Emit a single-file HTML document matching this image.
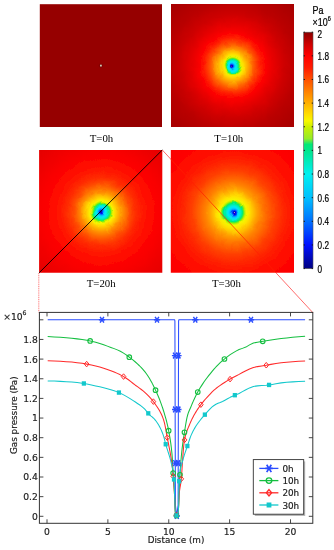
<!DOCTYPE html>
<html><head><meta charset="utf-8"><style>
html,body{margin:0;padding:0;background:#fff;}
body{width:334px;height:550px;overflow:hidden;position:relative;}
svg{position:absolute;left:0;top:0;}
.pl{font-family:"Liberation Serif",serif;font-size:10.8px;fill:#000;}
.tk{stroke:#222;stroke-width:0.18px;font-family:"DejaVu Sans",sans-serif;font-size:9.2px;fill:#222;}
.ax{stroke:#222;stroke-width:0.18px;font-family:"DejaVu Sans",sans-serif;font-size:8.8px;fill:#222;}
.yl{stroke:#222;stroke-width:0.18px;font-family:"DejaVu Sans",sans-serif;font-size:8.8px;fill:#222;}
.lg{stroke:#1a1a1a;stroke-width:0.18px;font-family:"DejaVu Sans",sans-serif;font-size:8.8px;fill:#1a1a1a;}
.cb{font-family:"Liberation Sans",sans-serif;font-size:10.5px;fill:#000;stroke:#000;stroke-width:0.22px;}
</style></head><body>
<svg width="334" height="550" viewBox="0 0 334 550">
<defs><filter id="wob" x="-5%" y="-5%" width="110%" height="110%"><feTurbulence type="fractalNoise" baseFrequency="0.1" numOctaves="2" seed="5" result="n"/><feDisplacementMap in="SourceGraphic" in2="n" scale="3.6" xChannelSelector="R" yChannelSelector="G"/></filter></defs>
<rect width="334" height="550" fill="#fff"/>
<rect x="39.8" y="4.2" width="122.2" height="122.8" fill="#960000"/>
<circle cx="100.9" cy="65.6" r="2.2" fill="#7a0000" opacity="0.6"/>
<rect x="100.0" y="64.7" width="1.8" height="1.8" fill="#c8c8b4"/>
<radialGradient id="g1" gradientUnits="userSpaceOnUse" cx="232.65" cy="66.10" r="88"><stop offset="0.0000" stop-color="#cda5cd"/><stop offset="0.0057" stop-color="#2814a0"/><stop offset="0.0114" stop-color="#0000c8"/><stop offset="0.0182" stop-color="#003cff"/><stop offset="0.0261" stop-color="#008cff"/><stop offset="0.0364" stop-color="#00cdff"/><stop offset="0.0477" stop-color="#00e8fa"/><stop offset="0.0614" stop-color="#00eed2"/><stop offset="0.0739" stop-color="#00ec96"/><stop offset="0.0852" stop-color="#3cf032"/><stop offset="0.0955" stop-color="#b4f000"/><stop offset="0.1068" stop-color="#f0f000"/><stop offset="0.1250" stop-color="#ffdc00"/><stop offset="0.1477" stop-color="#ffc300"/><stop offset="0.1761" stop-color="#ffa500"/><stop offset="0.2102" stop-color="#ff8200"/><stop offset="0.2443" stop-color="#ff5f00"/><stop offset="0.2841" stop-color="#ff3c00"/><stop offset="0.3295" stop-color="#ff1900"/><stop offset="0.3750" stop-color="#fc0000"/><stop offset="0.4773" stop-color="#e40000"/><stop offset="0.5909" stop-color="#cd0000"/><stop offset="0.7273" stop-color="#ba0000"/><stop offset="0.9091" stop-color="#ac0000"/><stop offset="1.0000" stop-color="#a50000"/></radialGradient>
<clipPath id="cp1"><rect x="171.0" y="4.0" width="122.9" height="123.0"/></clipPath>
<g clip-path="url(#cp1)"><rect x="165.0" y="-2.0" width="134.9" height="135.0" fill="url(#g1)" filter="url(#wob)"/></g>
<radialGradient id="g2" gradientUnits="userSpaceOnUse" cx="101.50" cy="212.00" r="88"><stop offset="0.0000" stop-color="#cda5cd"/><stop offset="0.0068" stop-color="#2814aa"/><stop offset="0.0136" stop-color="#0000dc"/><stop offset="0.0227" stop-color="#003cff"/><stop offset="0.0318" stop-color="#008cff"/><stop offset="0.0432" stop-color="#00c8ff"/><stop offset="0.0568" stop-color="#00e6fa"/><stop offset="0.0727" stop-color="#00eed2"/><stop offset="0.0886" stop-color="#00ec96"/><stop offset="0.1023" stop-color="#3cf032"/><stop offset="0.1159" stop-color="#b4f000"/><stop offset="0.1307" stop-color="#f5f500"/><stop offset="0.1534" stop-color="#ffdc00"/><stop offset="0.1875" stop-color="#ffb900"/><stop offset="0.2273" stop-color="#ff9100"/><stop offset="0.2727" stop-color="#ff6e00"/><stop offset="0.3239" stop-color="#ff4b00"/><stop offset="0.3864" stop-color="#ff2d00"/><stop offset="0.4659" stop-color="#ff1800"/><stop offset="0.5568" stop-color="#ff0a00"/><stop offset="0.6818" stop-color="#fa0000"/><stop offset="0.8182" stop-color="#f00000"/><stop offset="1.0000" stop-color="#e40000"/></radialGradient>
<clipPath id="cp2"><rect x="39.1" y="150.0" width="123.2" height="122.8"/></clipPath>
<g clip-path="url(#cp2)"><rect x="33.1" y="144.0" width="135.2" height="134.8" fill="url(#g2)" filter="url(#wob)"/></g>
<radialGradient id="g3" gradientUnits="userSpaceOnUse" cx="233.40" cy="212.50" r="88"><stop offset="0.0000" stop-color="#cda5cd"/><stop offset="0.0068" stop-color="#2814aa"/><stop offset="0.0136" stop-color="#0000dc"/><stop offset="0.0216" stop-color="#0032ff"/><stop offset="0.0295" stop-color="#0078ff"/><stop offset="0.0386" stop-color="#00b4ff"/><stop offset="0.0500" stop-color="#00d7ff"/><stop offset="0.0636" stop-color="#00e8f5"/><stop offset="0.0773" stop-color="#00eed2"/><stop offset="0.0909" stop-color="#00ecaa"/><stop offset="0.1045" stop-color="#00eb78"/><stop offset="0.1182" stop-color="#64f01e"/><stop offset="0.1318" stop-color="#c8f000"/><stop offset="0.1477" stop-color="#f5f500"/><stop offset="0.1818" stop-color="#ffe100"/><stop offset="0.2216" stop-color="#ffc300"/><stop offset="0.2670" stop-color="#ffa000"/><stop offset="0.3182" stop-color="#ff8200"/><stop offset="0.3864" stop-color="#ff6400"/><stop offset="0.4773" stop-color="#ff3e00"/><stop offset="0.5909" stop-color="#ff2200"/><stop offset="0.7273" stop-color="#ff0c00"/><stop offset="0.8636" stop-color="#fe0400"/><stop offset="1.0000" stop-color="#fa0000"/></radialGradient>
<clipPath id="cp3"><rect x="170.8" y="150.0" width="123.2" height="122.8"/></clipPath>
<g clip-path="url(#cp3)"><rect x="164.8" y="144.0" width="135.2" height="134.8" fill="url(#g3)" filter="url(#wob)"/></g>
<text x="101.5" y="141.5" class="pl" text-anchor="middle">T=0h</text>
<text x="228.8" y="142.0" class="pl" text-anchor="middle">T=10h</text>
<text x="101.2" y="286.5" class="pl" text-anchor="middle">T=20h</text>
<text x="226.4" y="286.5" class="pl" text-anchor="middle">T=30h</text>
<linearGradient id="cb" x1="0" y1="0" x2="0" y2="1"><stop offset="0.0000" stop-color="#8a0000"/><stop offset="0.0500" stop-color="#cd0000"/><stop offset="0.1000" stop-color="#ff0000"/><stop offset="0.1500" stop-color="#ff1a00"/><stop offset="0.2000" stop-color="#ff5000"/><stop offset="0.3000" stop-color="#ffb000"/><stop offset="0.3500" stop-color="#ffe000"/><stop offset="0.3750" stop-color="#f8f800"/><stop offset="0.4000" stop-color="#cdf000"/><stop offset="0.4500" stop-color="#96ec28"/><stop offset="0.4750" stop-color="#00e878"/><stop offset="0.5000" stop-color="#00e68c"/><stop offset="0.6000" stop-color="#00f0f0"/><stop offset="0.7000" stop-color="#00c0ff"/><stop offset="0.8000" stop-color="#0070ff"/><stop offset="0.9000" stop-color="#0010ff"/><stop offset="1.0000" stop-color="#000080"/></linearGradient>
<rect x="303.7" y="32.2" width="9.3" height="236.4" fill="url(#cb)" stroke="#555" stroke-width="0.6"/>
<path d="M303.7,268.60h1.3M313.0,268.60h-1.3M303.7,244.96h1.3M313.0,244.96h-1.3M303.7,221.32h1.3M313.0,221.32h-1.3M303.7,197.68h1.3M313.0,197.68h-1.3M303.7,174.04h1.3M313.0,174.04h-1.3M303.7,150.40h1.3M313.0,150.40h-1.3M303.7,126.76h1.3M313.0,126.76h-1.3M303.7,103.12h1.3M313.0,103.12h-1.3M303.7,79.48h1.3M313.0,79.48h-1.3M303.7,55.84h1.3M313.0,55.84h-1.3M303.7,32.20h1.3M313.0,32.20h-1.3" stroke="#111" stroke-width="0.9"/>
<text transform="translate(317.6,272.50) scale(0.78,1.12)" class="cb">0</text>
<text transform="translate(317.6,248.86) scale(0.78,1.12)" class="cb">0.2</text>
<text transform="translate(317.6,225.22) scale(0.78,1.12)" class="cb">0.4</text>
<text transform="translate(317.6,201.58) scale(0.78,1.12)" class="cb">0.6</text>
<text transform="translate(317.6,177.94) scale(0.78,1.12)" class="cb">0.8</text>
<text transform="translate(317.6,154.30) scale(0.78,1.12)" class="cb">1</text>
<text transform="translate(317.6,130.66) scale(0.78,1.12)" class="cb">1.2</text>
<text transform="translate(317.6,107.02) scale(0.78,1.12)" class="cb">1.4</text>
<text transform="translate(317.6,83.38) scale(0.78,1.12)" class="cb">1.6</text>
<text transform="translate(317.6,59.74) scale(0.78,1.12)" class="cb">1.8</text>
<text transform="translate(317.6,37.90) scale(0.78,1.12)" class="cb">2</text>
<text transform="translate(312.6,13.7) scale(0.85,1.08)" class="cb" font-size="9.5">Pa</text>
<text transform="translate(312.6,25.5) scale(0.85,1.08)" class="cb" font-size="9.5">×10<tspan dy="-4" font-size="6.5">6</tspan></text>
<path d="M39.1,272.8L162.3,150.0" stroke="#000" stroke-width="0.9"/>
<path d="M38.8,273L38.8,312.4" stroke="#ff6a6a" stroke-width="0.9" stroke-dasharray="1.1,0.75"/>
<path d="M162.3,150.0L170.80,159.18M275.96,272.80L312.8,312.6" stroke="#ff3a3a" stroke-width="0.75"/>
<path d="M170.80,159.18L275.96,272.80" stroke="#ff2000" stroke-width="0.7"/>
<path d="M47.70,319.80 L174.70,319.80 L174.90,321.00 L175.40,505.00 L176.80,516.30 L178.10,505.00 L178.60,321.00 L178.80,319.80 L305.10,319.80" stroke="#2a4cff" stroke-width="1.05" fill="none" stroke-linejoin="round"/>
<path d="M47.70,336.60 L54.20,336.92 L60.37,337.32 L66.24,337.79 L71.80,338.30 L77.09,338.88 L82.11,339.55 L86.88,340.32 L91.41,341.18 L95.71,342.23 L99.79,343.45 L103.67,344.78 L107.35,346.12 L110.85,347.41 L114.17,348.62 L117.32,349.87 L120.32,351.26 L123.16,352.86 L125.86,354.63 L128.43,356.47 L130.86,358.33 L133.18,360.16 L135.37,362.00 L137.46,363.86 L139.44,365.75 L141.32,367.67 L143.11,369.65 L144.80,371.69 L146.41,373.80 L147.94,376.01 L149.40,378.32 L150.78,380.70 L152.09,383.12 L153.33,385.56 L154.51,387.98 L155.64,390.36 L156.70,392.68 L157.71,394.98 L158.67,397.27 L159.59,399.55 L160.45,401.82 L161.28,404.07 L162.06,406.31 L162.80,408.53 L163.51,410.73 L164.18,412.91 L164.81,415.03 L165.41,417.12 L165.99,419.18 L166.53,421.24 L167.05,423.29 L167.54,425.36 L168.01,427.46 L168.45,429.61 L168.87,431.80 L169.27,433.96 L169.65,436.09 L170.01,438.22 L170.35,440.37 L170.68,442.57 L170.98,444.85 L171.28,447.22 L171.55,449.70 L171.82,452.33 L172.07,455.12 L172.31,458.41 L172.53,462.07 L172.75,465.86 L172.95,469.53 L173.15,472.85 L173.33,475.71 L173.51,478.32 L173.67,480.75 L173.83,483.06 L173.98,485.29 L174.12,487.50 L174.26,489.73 L174.38,492.02 L174.51,494.41 L174.62,497.06 L174.73,499.91 L174.83,502.64 L174.93,505.00 L175.03,506.78 L175.12,508.35 L175.20,509.81 L175.28,511.10 L175.36,512.14 L175.43,512.89 L175.50,513.30 L176.80,516.30 L178.10,513.30 L178.17,512.89 L178.24,512.14 L178.32,511.10 L178.40,509.82 L178.48,508.36 L178.57,506.79 L178.67,505.04 L178.76,502.79 L178.87,500.15 L178.98,497.31 L179.09,494.46 L179.21,491.58 L179.34,488.50 L179.48,485.30 L179.62,482.05 L179.77,478.83 L179.93,475.75 L180.09,472.85 L180.26,470.03 L180.45,467.27 L180.64,464.56 L180.84,461.89 L181.06,459.28 L181.28,456.72 L181.52,454.19 L181.77,451.72 L182.04,449.33 L182.31,447.01 L182.60,444.73 L182.91,442.47 L183.24,440.22 L183.58,437.94 L183.94,435.62 L184.31,433.22 L184.71,430.68 L185.13,428.02 L185.57,425.29 L186.03,422.57 L186.52,419.94 L187.04,417.48 L187.58,415.27 L188.15,413.39 L188.75,411.77 L189.39,410.28 L190.05,408.80 L190.75,407.17 L191.49,405.40 L192.27,403.55 L193.09,401.64 L193.95,399.68 L194.86,397.71 L195.82,395.73 L196.82,393.75 L197.88,391.79 L199.00,389.82 L200.18,387.84 L201.41,385.85 L202.72,383.85 L204.09,381.83 L205.53,379.80 L207.06,377.75 L208.66,375.68 L210.34,373.58 L212.12,371.41 L213.99,369.20 L215.96,366.98 L218.03,364.78 L220.22,362.63 L222.52,360.56 L224.94,358.59 L227.49,356.62 L230.17,354.68 L233.00,352.83 L235.97,351.11 L239.10,349.58 L242.40,348.38 L245.88,347.10 L249.53,344.89 L253.39,343.03 L257.44,342.20 L261.71,341.53 L266.21,340.77 L270.94,340.01 L275.93,339.27 L281.17,338.58 L286.70,337.93 L292.52,337.32 L298.65,336.74 L305.10,336.20" stroke="#14bf40" stroke-width="1.05" fill="none" stroke-linejoin="round"/>
<path d="M47.70,360.70 L54.20,360.92 L60.37,361.25 L66.24,361.65 L71.80,362.10 L77.09,362.65 L82.11,363.34 L86.88,364.12 L91.41,364.99 L95.71,365.98 L99.79,367.07 L103.67,368.24 L107.35,369.46 L110.85,370.71 L114.17,372.01 L117.32,373.39 L120.32,374.84 L123.16,376.36 L125.86,377.95 L128.43,379.73 L130.86,381.63 L133.18,383.51 L135.37,385.20 L137.46,386.69 L139.44,388.08 L141.32,389.48 L143.11,390.94 L144.80,392.42 L146.41,393.91 L147.94,395.42 L149.40,396.93 L150.78,398.45 L152.09,399.98 L153.33,401.53 L154.51,403.12 L155.64,404.69 L156.70,406.23 L157.71,407.74 L158.67,409.26 L159.59,410.80 L160.45,412.40 L161.28,414.06 L162.06,415.81 L162.80,417.68 L163.51,419.67 L164.18,421.85 L164.81,424.48 L165.41,427.44 L165.99,430.55 L166.53,433.65 L167.05,436.55 L167.54,439.11 L168.01,441.45 L168.45,443.67 L168.87,445.79 L169.27,447.83 L169.65,449.80 L170.01,451.72 L170.35,453.61 L170.68,455.49 L170.98,457.37 L171.28,459.26 L171.55,461.19 L171.82,463.15 L172.07,465.18 L172.31,467.27 L172.53,469.45 L172.75,471.67 L172.95,473.90 L173.15,476.09 L173.33,478.20 L173.51,480.23 L173.67,482.20 L173.83,484.14 L173.98,486.08 L174.12,488.06 L174.26,490.09 L174.38,492.19 L174.51,494.40 L174.62,496.95 L174.73,499.79 L174.83,502.57 L174.93,504.98 L175.03,506.78 L175.12,508.35 L175.20,509.81 L175.28,511.10 L175.36,512.14 L175.43,512.89 L175.50,513.30 L176.80,516.30 L178.10,513.30 L178.17,512.88 L178.24,512.10 L178.32,511.03 L178.40,509.73 L178.48,508.28 L178.57,506.76 L178.67,505.13 L178.76,503.04 L178.87,500.67 L178.98,498.23 L179.09,495.96 L179.21,494.11 L179.34,492.62 L179.48,491.31 L179.62,490.14 L179.77,489.09 L179.93,488.11 L180.09,487.16 L180.26,486.19 L180.45,485.16 L180.64,484.01 L180.84,482.68 L181.06,481.12 L181.28,479.25 L181.52,476.82 L181.77,473.00 L182.04,468.45 L182.31,464.12 L182.60,460.00 L182.91,455.67 L183.24,451.37 L183.58,447.33 L183.94,443.80 L184.31,441.02 L184.71,438.82 L185.13,436.85 L185.57,435.08 L186.03,433.47 L186.52,431.98 L187.04,430.57 L187.58,429.21 L188.15,427.85 L188.75,426.45 L189.39,424.96 L190.05,423.36 L190.75,421.75 L191.49,420.14 L192.27,418.54 L193.09,416.94 L193.95,415.34 L194.86,413.73 L195.82,412.12 L196.82,410.51 L197.88,408.88 L199.00,407.25 L200.18,405.61 L201.41,403.95 L202.72,402.31 L204.09,400.65 L205.53,398.99 L207.06,397.30 L208.66,395.57 L210.34,393.78 L212.12,391.94 L213.99,390.20 L215.96,388.53 L218.03,386.91 L220.22,385.33 L222.52,383.76 L224.94,382.19 L227.49,380.63 L230.17,379.05 L233.00,377.53 L235.97,376.00 L239.10,374.38 L242.40,372.52 L245.88,370.67 L249.53,368.97 L253.39,367.53 L257.44,366.61 L261.71,365.94 L266.21,365.23 L270.94,364.37 L275.93,363.51 L281.17,362.77 L286.70,362.19 L292.52,361.67 L298.65,361.24 L305.10,360.90" stroke="#ff2a2a" stroke-width="1.05" fill="none" stroke-linejoin="round"/>
<path d="M47.70,380.90 L54.20,381.08 L60.37,381.36 L66.24,381.71 L71.80,382.10 L77.09,382.59 L82.11,383.21 L86.88,383.95 L91.41,384.89 L95.71,385.90 L99.79,386.85 L103.67,387.75 L107.35,388.67 L110.85,389.65 L114.17,390.71 L117.32,391.88 L120.32,393.17 L123.16,394.61 L125.86,396.12 L128.43,397.61 L130.86,399.10 L133.18,400.58 L135.37,402.05 L137.46,403.45 L139.44,404.80 L141.32,406.16 L143.11,407.60 L144.80,409.21 L146.41,411.08 L147.94,412.98 L149.40,414.60 L150.78,415.85 L152.09,416.94 L153.33,418.00 L154.51,419.19 L155.64,420.55 L156.70,421.98 L157.71,423.47 L158.67,425.04 L159.59,426.67 L160.45,428.37 L161.28,430.14 L162.06,431.99 L162.80,433.91 L163.51,435.90 L164.18,438.04 L164.81,440.66 L165.41,443.24 L165.99,445.26 L166.53,447.04 L167.05,448.67 L167.54,450.19 L168.01,451.62 L168.45,452.98 L168.87,454.28 L169.27,455.55 L169.65,456.81 L170.01,458.08 L170.35,459.37 L170.68,460.69 L170.98,462.00 L171.28,463.20 L171.55,464.31 L171.82,465.38 L172.07,466.41 L172.31,467.43 L172.53,468.46 L172.75,469.53 L172.95,470.66 L173.15,471.85 L173.33,473.13 L173.51,474.52 L173.67,476.02 L173.83,477.65 L173.98,479.42 L174.12,481.66 L174.26,484.68 L174.38,488.12 L174.51,491.62 L174.62,494.88 L174.73,498.33 L174.83,501.81 L174.93,504.78 L175.03,506.82 L175.12,508.46 L175.20,509.93 L175.28,511.19 L175.36,512.19 L175.43,512.90 L175.50,513.30 L176.80,516.30 L178.10,513.30 L178.17,512.93 L178.24,512.26 L178.32,511.32 L178.40,510.10 L178.48,508.61 L178.57,506.88 L178.67,504.45 L178.76,500.39 L178.87,495.66 L178.98,490.55 L179.09,484.67 L179.21,480.95 L179.34,478.96 L179.48,477.13 L179.62,475.46 L179.77,473.95 L179.93,472.57 L180.09,471.33 L180.26,470.20 L180.45,469.17 L180.64,468.22 L180.84,467.34 L181.06,466.51 L181.28,465.69 L181.52,464.88 L181.77,464.05 L182.04,463.16 L182.31,462.21 L182.60,461.14 L182.91,459.95 L183.24,458.71 L183.58,457.48 L183.94,456.27 L184.31,455.06 L184.71,453.83 L185.13,452.58 L185.57,451.30 L186.03,449.96 L186.52,448.56 L187.04,447.08 L187.58,445.47 L188.15,443.72 L188.75,441.87 L189.39,439.96 L190.05,438.04 L190.75,436.15 L191.49,434.36 L192.27,432.68 L193.09,431.05 L193.95,429.45 L194.86,427.88 L195.82,426.34 L196.82,424.81 L197.88,423.29 L199.00,421.77 L200.18,420.24 L201.41,418.70 L202.72,417.14 L204.09,415.55 L205.53,413.86 L207.06,412.09 L208.66,410.31 L210.34,408.57 L212.12,406.94 L213.99,405.47 L215.96,404.22 L218.03,403.28 L220.22,402.46 L222.52,401.46 L224.94,400.20 L227.49,398.80 L230.17,397.34 L233.00,395.96 L235.97,394.72 L239.10,393.42 L242.40,391.66 L245.88,389.76 L249.53,387.89 L253.39,386.44 L257.44,385.87 L261.71,385.58 L266.21,385.28 L270.94,384.69 L275.93,383.72 L281.17,382.87 L286.70,382.33 L292.52,381.87 L298.65,381.51 L305.10,381.30" stroke="#12c8cc" stroke-width="1.05" fill="none" stroke-linejoin="round"/>
<path d="M98.90,319.80H105.10M100.10,316.90L103.90,322.70M100.10,322.70L103.90,316.90" stroke="#2a4cff" stroke-width="1.45" fill="none"/>
<path d="M153.90,319.80H160.10M155.10,316.90L158.90,322.70M155.10,322.70L158.90,316.90" stroke="#2a4cff" stroke-width="1.45" fill="none"/>
<path d="M171.90,355.60H178.10M173.10,352.70L176.90,358.50M173.10,358.50L176.90,352.70" stroke="#2a4cff" stroke-width="1.45" fill="none"/>
<path d="M172.00,409.40H178.20M173.20,406.50L177.00,412.30M173.20,412.30L177.00,406.50" stroke="#2a4cff" stroke-width="1.45" fill="none"/>
<path d="M172.20,463.10H178.40M173.40,460.20L177.20,466.00M173.40,466.00L177.20,460.20" stroke="#2a4cff" stroke-width="1.45" fill="none"/>
<path d="M173.70,516.00H179.90M174.90,513.10L178.70,518.90M174.90,518.90L178.70,513.10" stroke="#2a4cff" stroke-width="1.45" fill="none"/>
<path d="M175.10,463.10H181.30M176.30,460.20L180.10,466.00M176.30,466.00L180.10,460.20" stroke="#2a4cff" stroke-width="1.45" fill="none"/>
<path d="M175.30,409.40H181.50M176.50,406.50L180.30,412.30M176.50,412.30L180.30,406.50" stroke="#2a4cff" stroke-width="1.45" fill="none"/>
<path d="M175.40,355.60H181.60M176.60,352.70L180.40,358.50M176.60,358.50L180.40,352.70" stroke="#2a4cff" stroke-width="1.45" fill="none"/>
<path d="M192.20,319.80H198.40M193.40,316.90L197.20,322.70M193.40,322.70L197.20,316.90" stroke="#2a4cff" stroke-width="1.45" fill="none"/>
<path d="M247.90,319.80H254.10M249.10,316.90L252.90,322.70M249.10,322.70L252.90,316.90" stroke="#2a4cff" stroke-width="1.45" fill="none"/>
<circle cx="90.15" cy="340.94" r="2.3" stroke="#14bf40" stroke-width="1.1" fill="none"/>
<circle cx="129.31" cy="357.15" r="2.3" stroke="#14bf40" stroke-width="1.1" fill="none"/>
<circle cx="155.54" cy="390.15" r="2.3" stroke="#14bf40" stroke-width="1.1" fill="none"/>
<circle cx="168.66" cy="430.69" r="2.3" stroke="#14bf40" stroke-width="1.1" fill="none"/>
<circle cx="173.16" cy="473.11" r="2.3" stroke="#14bf40" stroke-width="1.1" fill="none"/>
<circle cx="176.47" cy="515.54" r="2.3" stroke="#14bf40" stroke-width="1.1" fill="none"/>
<circle cx="179.98" cy="474.74" r="2.3" stroke="#14bf40" stroke-width="1.1" fill="none"/>
<circle cx="184.46" cy="432.29" r="2.3" stroke="#14bf40" stroke-width="1.1" fill="none"/>
<circle cx="197.76" cy="392.03" r="2.3" stroke="#14bf40" stroke-width="1.1" fill="none"/>
<circle cx="224.45" cy="358.99" r="2.3" stroke="#14bf40" stroke-width="1.1" fill="none"/>
<circle cx="262.72" cy="341.36" r="2.3" stroke="#14bf40" stroke-width="1.1" fill="none"/>
<path d="M86.65,361.28L88.95,364.08L86.65,366.88L84.35,364.08Z" stroke="#ff2a2a" stroke-width="1.0" fill="none"/>
<path d="M123.55,373.79L125.85,376.59L123.55,379.39L121.25,376.59Z" stroke="#ff2a2a" stroke-width="1.0" fill="none"/>
<path d="M153.39,398.81L155.69,401.61L153.39,404.41L151.09,401.61Z" stroke="#ff2a2a" stroke-width="1.0" fill="none"/>
<path d="M167.25,434.80L169.55,437.60L167.25,440.40L164.95,437.60Z" stroke="#ff2a2a" stroke-width="1.0" fill="none"/>
<path d="M173.16,473.46L175.46,476.26L173.16,479.06L170.86,476.26Z" stroke="#ff2a2a" stroke-width="1.0" fill="none"/>
<path d="M176.30,512.34L178.60,515.14L176.30,517.94L174.00,515.14Z" stroke="#ff2a2a" stroke-width="1.0" fill="none"/>
<path d="M181.32,476.09L183.62,478.89L181.32,481.69L179.02,478.89Z" stroke="#ff2a2a" stroke-width="1.0" fill="none"/>
<path d="M184.52,437.10L186.82,439.90L184.52,442.70L182.22,439.90Z" stroke="#ff2a2a" stroke-width="1.0" fill="none"/>
<path d="M200.87,401.88L203.17,404.68L200.87,407.48L198.57,404.68Z" stroke="#ff2a2a" stroke-width="1.0" fill="none"/>
<path d="M230.08,376.31L232.38,379.11L230.08,381.91L227.78,379.11Z" stroke="#ff2a2a" stroke-width="1.0" fill="none"/>
<path d="M266.25,362.42L268.55,365.22L266.25,368.02L263.95,365.22Z" stroke="#ff2a2a" stroke-width="1.0" fill="none"/>
<rect x="81.77" y="381.28" width="4.2" height="4.4" fill="#12c8cc"/>
<rect x="116.82" y="390.37" width="4.2" height="4.4" fill="#12c8cc"/>
<rect x="146.17" y="411.15" width="4.2" height="4.4" fill="#12c8cc"/>
<rect x="163.60" y="442.03" width="4.2" height="4.4" fill="#12c8cc"/>
<rect x="171.88" y="477.25" width="4.2" height="4.4" fill="#12c8cc"/>
<rect x="174.35" y="513.29" width="4.2" height="4.4" fill="#12c8cc"/>
<rect x="177.11" y="479.00" width="4.2" height="4.4" fill="#12c8cc"/>
<rect x="185.29" y="443.83" width="4.2" height="4.4" fill="#12c8cc"/>
<rect x="202.76" y="412.45" width="4.2" height="4.4" fill="#12c8cc"/>
<rect x="232.75" y="392.99" width="4.2" height="4.4" fill="#12c8cc"/>
<rect x="266.96" y="382.72" width="4.2" height="4.4" fill="#12c8cc"/>
<rect x="39.4" y="312.4" width="273.4" height="210.9" fill="none" stroke="#333" stroke-width="1"/>
<path d="M47.00,523.3v-4.0M47.00,312.4v4.0M107.88,523.3v-4.0M107.88,312.4v4.0M168.75,523.3v-4.0M168.75,312.4v4.0M229.62,523.3v-4.0M229.62,312.4v4.0M290.50,523.3v-4.0M290.50,312.4v4.0M39.4,516.30h4.0M312.8,516.30h-4.0M39.4,496.65h4.0M312.8,496.65h-4.0M39.4,477.00h4.0M312.8,477.00h-4.0M39.4,457.35h4.0M312.8,457.35h-4.0M39.4,437.70h4.0M312.8,437.70h-4.0M39.4,418.05h4.0M312.8,418.05h-4.0M39.4,398.40h4.0M312.8,398.40h-4.0M39.4,378.75h4.0M312.8,378.75h-4.0M39.4,359.10h4.0M312.8,359.10h-4.0M39.4,339.45h4.0M312.8,339.45h-4.0M39.4,319.80h4.0M312.8,319.80h-4.0" stroke="#333" stroke-width="0.9" fill="none"/>
<text x="47.00" y="534.6" class="tk" text-anchor="middle">0</text>
<text x="107.88" y="534.6" class="tk" text-anchor="middle">5</text>
<text x="168.75" y="534.6" class="tk" text-anchor="middle">10</text>
<text x="229.62" y="534.6" class="tk" text-anchor="middle">15</text>
<text x="290.50" y="534.6" class="tk" text-anchor="middle">20</text>
<text x="37.8" y="519.70" class="tk" text-anchor="end">0</text>
<text x="37.8" y="500.05" class="tk" text-anchor="end">0.2</text>
<text x="37.8" y="480.40" class="tk" text-anchor="end">0.4</text>
<text x="37.8" y="460.75" class="tk" text-anchor="end">0.6</text>
<text x="37.8" y="441.10" class="tk" text-anchor="end">0.8</text>
<text x="37.8" y="421.45" class="tk" text-anchor="end">1</text>
<text x="37.8" y="401.80" class="tk" text-anchor="end">1.2</text>
<text x="37.8" y="382.15" class="tk" text-anchor="end">1.4</text>
<text x="37.8" y="362.50" class="tk" text-anchor="end">1.6</text>
<text x="37.8" y="342.85" class="tk" text-anchor="end">1.8</text>
<text x="3.2" y="319.6" class="tk" font-size="9.1px">×10<tspan dy="-4.4" font-size="6.2px">6</tspan></text>
<text x="176" y="542.6" class="ax" text-anchor="middle">Distance (m)</text>
<text transform="translate(17.0,415.2) rotate(-90)" class="yl" text-anchor="middle">Gas pressure (Pa)</text>
<rect x="254.8" y="461.40000000000003" width="50.39999999999998" height="54.60000000000002" fill="#b8b8b8"/>
<rect x="253.3" y="459.6" width="50.4" height="54.6" fill="#fff" stroke="#333" stroke-width="0.9"/>
<path d="M259.3,468.40H278.4" stroke="#2a4cff" stroke-width="1.3"/>
<path d="M265.40,468.40H272.60M266.70,464.70L271.30,472.10M266.70,472.10L271.30,464.70" stroke="#2a4cff" stroke-width="1.7" fill="none"/>
<text x="282.4" y="471.90" class="lg">0h</text>
<path d="M259.3,480.60H278.4" stroke="#14bf40" stroke-width="1.3"/>
<circle cx="269.00" cy="480.60" r="2.8" stroke="#14bf40" stroke-width="1.3" fill="none"/>
<text x="282.4" y="484.10" class="lg">10h</text>
<path d="M259.3,492.80H278.4" stroke="#ff2a2a" stroke-width="1.3"/>
<path d="M269.00,489.60L271.60,492.80L269.00,496.00L266.40,492.80Z" stroke="#ff2a2a" stroke-width="1.4" fill="none"/>
<text x="282.4" y="496.30" class="lg">20h</text>
<path d="M259.3,505.00H278.4" stroke="#12c8cc" stroke-width="1.3"/>
<rect x="266.60" y="502.50" width="4.8" height="5.0" fill="#12c8cc"/>
<text x="282.4" y="508.50" class="lg">30h</text>
</svg>
</body></html>
